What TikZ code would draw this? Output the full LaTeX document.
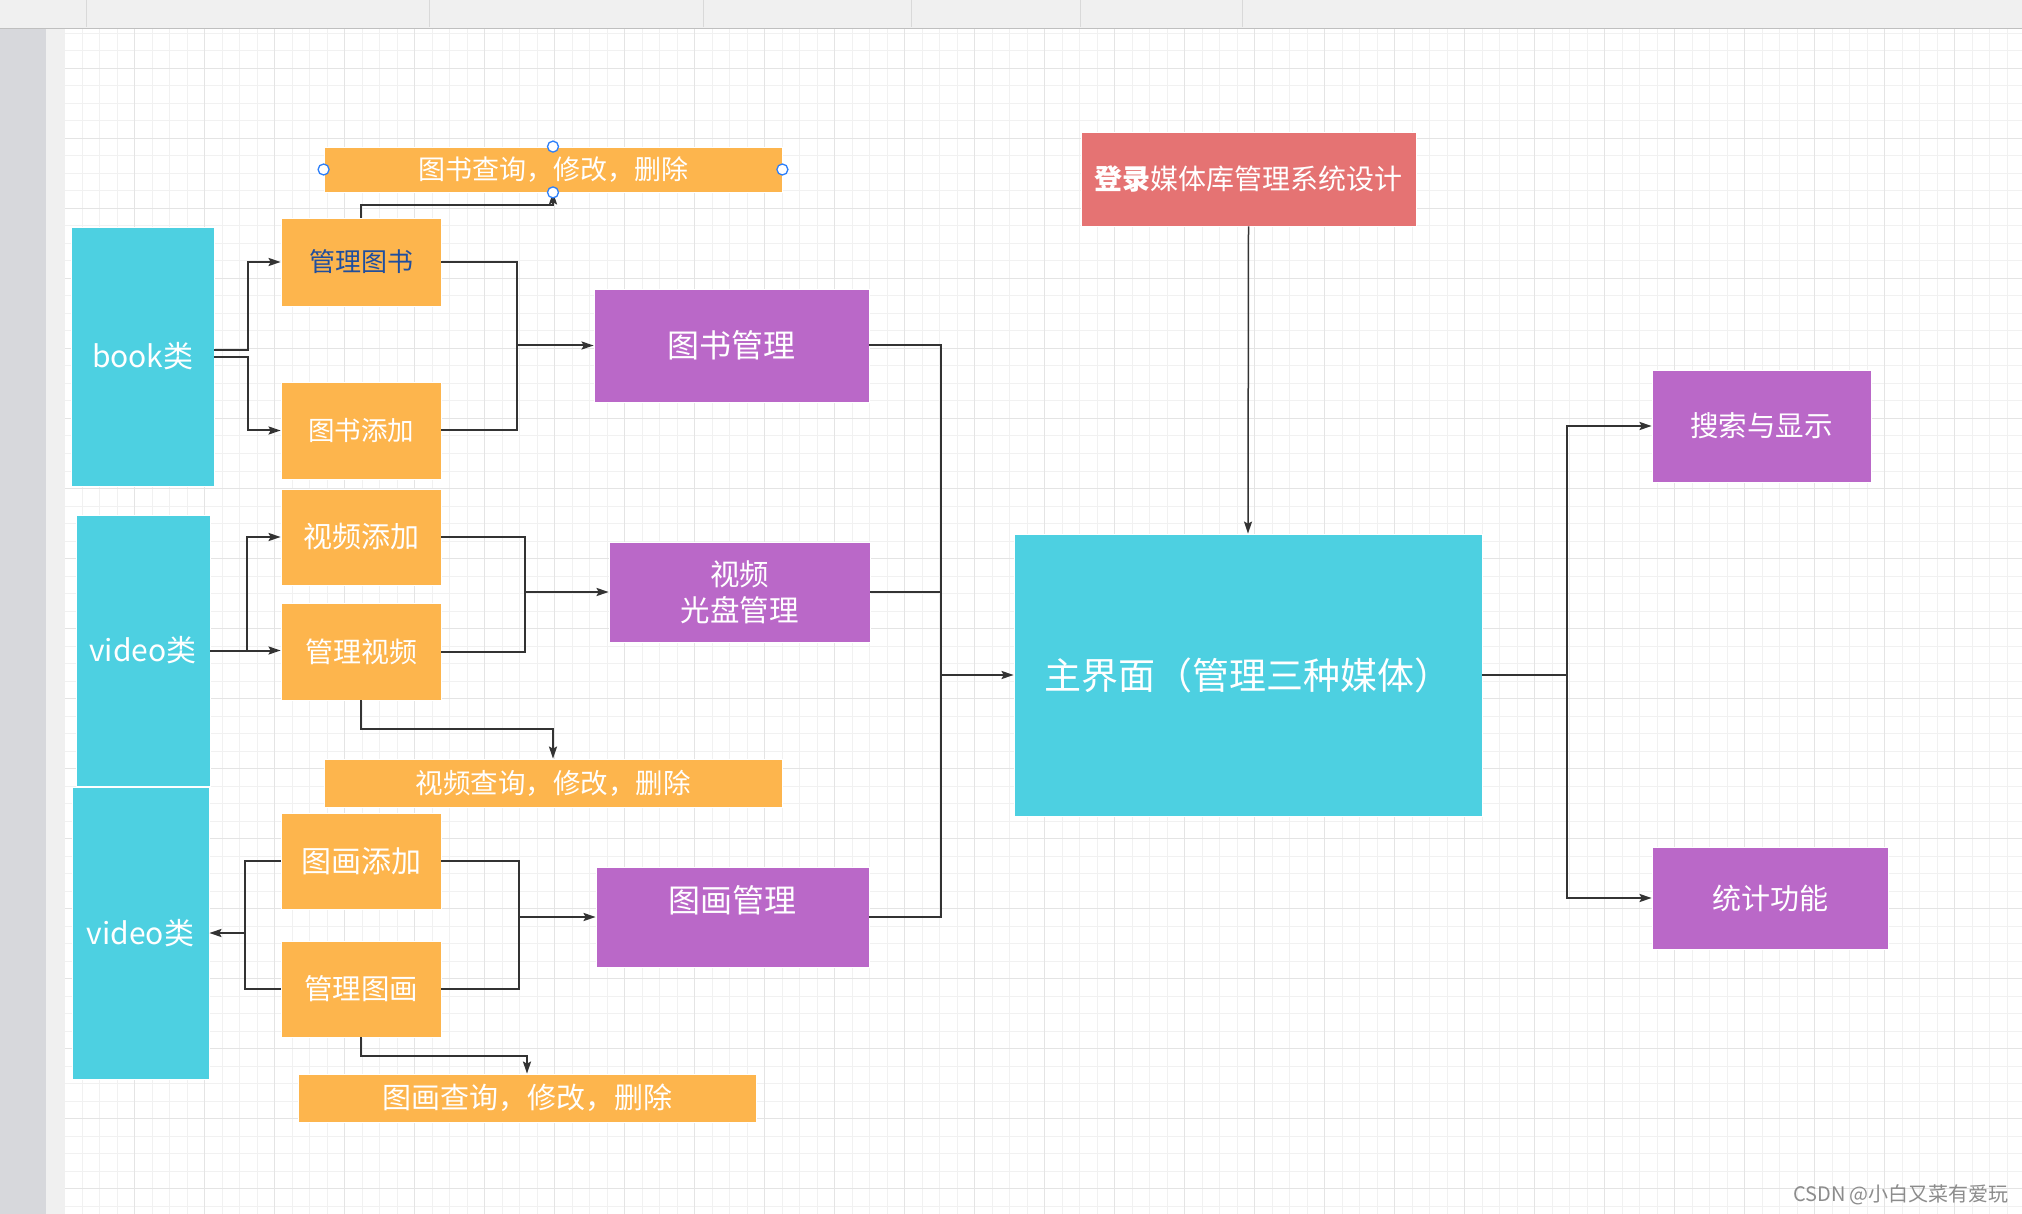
\documentclass[tikz,border=0pt]{standalone}
\usepackage{fontspec}
\setmainfont{Noto Sans CJK SC}
\usetikzlibrary{arrows.meta}
\definecolor{orng}{HTML}{FDB54D}
\definecolor{cyn}{HTML}{4DD0E1}
\definecolor{prp}{HTML}{BA68C8}
\definecolor{rd}{HTML}{E57373}
\definecolor{lnc}{HTML}{333333}
\definecolor{gmin}{HTML}{F1F1F1}
\definecolor{gmaj}{HTML}{E4E4E4}
\definecolor{tbar}{HTML}{F0F0F0}
\definecolor{side}{HTML}{D7D8DC}
\definecolor{hbl}{HTML}{2D7FF9}
\definecolor{bluetxt}{HTML}{1F4E9E}
\tikzset{
  bx/.style={draw=white, line width=0.8pt, inner sep=0pt, text=white, align=center},
  ob/.style={bx, fill=orng},
  cb/.style={bx, fill=cyn},
  pb/.style={bx, fill=prp},
  sz/.style 2 args={minimum width=#1pt, minimum height=#2pt},
  ln/.style={draw=lnc, line width=2pt},
  arr/.style={ln, -{Stealth[length=12pt,width=8pt,inset=2pt]}},
  handle/.style={circle, draw=hbl, fill=white, line width=1.3pt, minimum size=11pt, inner sep=0pt},
}
\begin{document}
\begin{tikzpicture}[x=1pt, y=-1pt]
\useasboundingbox (0,0) rectangle (2022,1214);
\fill[white] (0,0) rectangle (2022,1214);
% grid
\foreach \i in {0,...,112} {\draw[gmin, line width=1pt] ({64.5+17.5*\i},29) -- ++(0,1185);}
\foreach \i in {0,...,67} {\draw[gmin, line width=1pt] (64.5,{33.5+17.5*\i}) -- ++(1958,0);}
\foreach \i in {0,...,28} {\draw[gmaj, line width=1.4pt] ({64.5+70*\i},29) -- ++(0,1185);}
\foreach \i in {0,...,17} {\draw[gmaj, line width=1.4pt] (64.5,{68.5+70*\i}) -- ++(1958,0);}
% editor chrome
\fill[tbar] (0,0) rectangle (2022,28);
\draw[black!25, line width=1pt] (0,28.5) -- (2022,28.5);
\foreach \sx in {86,429,703,911,1080,1242} {\draw[black!15, line width=1pt] (\sx,0) -- (\sx,27);}
\fill[side] (0,29) rectangle (46,1214);
\fill[tbar] (46,29) rectangle (64.5,1214);

% cyan class boxes
\node[cb, sz={142.5}{259}, font=\fontsize{30}{36}\selectfont] (book) at (142.75,356.5) {book类};
\node[cb, sz={134}{271}, font=\fontsize{30}{36}\selectfont] (video1) at (143,650.5) {video类};
\node[cb, sz={137}{292}, font=\fontsize{30}{36}\selectfont] (video2) at (140.5,933) {video类};

% orange boxes
\node[ob, sz={458}{45}, font=\fontsize{27}{32}\selectfont] (q1) at (553,169.5) {图书查询，修改，删除};
\node[ob, sz={160}{88}, text=bluetxt, font=\fontsize{26}{32}\selectfont] (gl1) at (361,262) {管理图书};
\node[ob, sz={160}{97}, font=\fontsize{26.5}{32}\selectfont] (tj1) at (361,430.5) {图书添加};
\node[ob, sz={160}{96}, font=\fontsize{29}{34}\selectfont] (tj2) at (361,537) {视频添加};
\node[ob, sz={160}{97}, font=\fontsize{28}{34}\selectfont] (gl2) at (361,651.5) {管理视频};
\node[ob, sz={458}{48}, font=\fontsize{27.5}{32}\selectfont] (q2) at (553,783) {视频查询，修改，删除};
\node[ob, sz={160}{96}, font=\fontsize{30}{36}\selectfont] (tj3) at (361,861) {图画添加};
\node[ob, sz={160}{96}, font=\fontsize{28.5}{34}\selectfont] (gl3) at (361,989) {管理图画};
\node[ob, sz={458}{48}, font=\fontsize{29}{34}\selectfont] (q3) at (527,1098) {图画查询，修改，删除};

% purple boxes
\node[pb, sz={275}{113}, font=\fontsize{32}{38}\selectfont] (m1) at (731.5,345.5) {图书管理};
\node[pb, sz={261}{100}, font=\fontsize{29.5}{36}\selectfont] (m2) at (739.5,592) {视频\\光盘管理};
\node[pb, sz={273}{100}] (m3) at (732.5,917) {};
\node[text=white, inner sep=0pt, font=\fontsize{32}{38}\selectfont] (m3t) at ([yshift=17pt]m3.center) {图画管理};
\node[pb, sz={219}{112}, font=\fontsize{28.5}{34}\selectfont] (s1) at (1761.5,426) {搜索与显示};
\node[pb, sz={236}{102}, font=\fontsize{29}{34}\selectfont] (s2) at (1770,898) {统计功能};

% main and title
\node[cb, sz={468}{282}, font=\fontsize{37}{44}\selectfont] (main) at (1248,675) {主界面（管理三种媒体）};
\node[bx, fill=rd, sz={335}{94}, font=\fontsize{28}{34}\selectfont] (title) at (1248.5,179) {\textbf{登录}媒体库管理系统设计};

% selection handles on q1
\node[handle] (h1) at (q1.west) {};
\node[handle] (h2) at (q1.east) {};
\node[handle] (h3) at (q1.north) {};

% junction coordinates
\coordinate (j1) at (517,345.5);
\coordinate (j2) at (525,592);
\coordinate (j3) at (245,933);
\coordinate (j5) at (519,917);
\coordinate (j4) at (941,675);
\coordinate (j6) at (1567,675);

% book group
\draw[arr] ([yshift=6pt]book.east) -- ++(34,0) |- (gl1.west);
\draw[arr] ([yshift=-1pt]book.east) -- ++(34,0) |- (tj1.west);
\draw[arr] (gl1.north) -- ++(0,-13) -| (q1.south);
\draw[ln] (gl1.east) -| (j1);
\draw[ln] (tj1.east) -| (j1);
\draw[arr] (j1) -- (m1.west);

% video group
\draw[arr] (video1.east) -- ++(36.6,0) |- (tj2.west);
\draw[arr] (video1.east) -- (video1.east -| gl2.west);
\draw[ln] (tj2.east) -| (j2);
\draw[ln] (gl2.east) -| (j2);
\draw[arr] (j2) -- (m2.west);
\draw[arr] (gl2.south) -- ++(0,29) -| (q2.north);

% picture group
\draw[ln] (tj3.west) -| (j3);
\draw[ln] (gl3.west) -| (j3);
\draw[arr] (j3) -- (video2.east);
\draw[ln] (tj3.east) -| (j5);
\draw[ln] (gl3.east) -| (j5);
\draw[arr] (j5) -- (m3.west);
\draw[arr] (gl3.south) -- ++(0,19) -| (q3.north);

% into main
\draw[ln] (m1.east) -| (j4);
\draw[ln] (m2.east) -| (j4);
\draw[ln] (m3.east) -| (j4);
\draw[arr] (j4) -- (main.west);
\draw[draw=lnc, line width=1.5pt, -{Stealth[length=12pt,width=8pt,inset=2pt]}] (title.south) -- (main.north);

% out of main
\draw[ln] (main.east) -- (j6);
\draw[arr] (j6) |- (s1.west);
\draw[arr] (j6) |- (s2.west);

\node[handle] (h4) at (q1.south) {};

% watermark
\node[text=black!45, inner sep=0pt, font=\fontsize{20}{24}\selectfont] (wm) at (1901,1195) {CSDN @小白又菜有爱玩};
\end{tikzpicture}
\end{document}
